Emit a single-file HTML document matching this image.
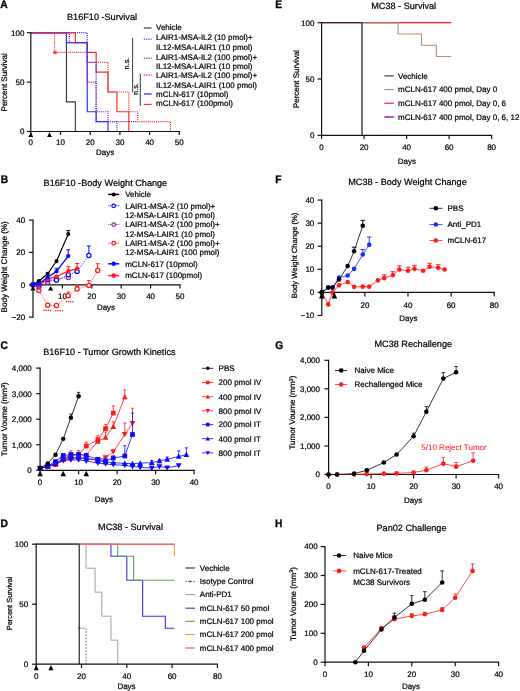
<!DOCTYPE html>
<html><head><meta charset="utf-8"><style>
html,body{margin:0;padding:0;background:#fff;width:520px;height:691px;overflow:hidden}
svg{display:block;font-family:"Liberation Sans",sans-serif;will-change:transform;text-rendering:geometricPrecision}
text{stroke:currentColor;stroke-width:0.22px}
</style></head><body>
<svg width="520" height="691" viewBox="0 0 520 691" font-family='"Liberation Sans", sans-serif'>
<rect width="520" height="691" fill="#fff"/>
<text transform="translate(0.20 8.40) scale(0.93 1)" font-size="11" font-weight="bold" fill="#000" style="color:#000;stroke-width:0.3px">A</text>
<text x="102.00" y="20.29" font-size="9.15" text-anchor="middle" fill="#000" style="color:#000">B16F10 -Survival</text>
<polyline points="30.80,32.70 66.44,32.70 66.44,101.86 75.35,101.86 75.35,131.50" fill="none" stroke="#333" stroke-width="1.1" stroke-linecap="butt" stroke-linejoin="miter"/>
<polyline points="30.80,32.70 75.35,32.70 75.35,42.58 87.23,42.58 87.23,52.46 96.14,52.46 96.14,72.22 108.02,72.22 108.02,91.98 116.93,91.98 116.93,111.74 128.81,111.74 128.81,131.50" fill="none" stroke="#ff2a2a" stroke-width="1.2" stroke-linecap="butt" stroke-linejoin="miter"/>
<polyline points="30.80,32.70 66.44,32.70 66.44,42.58 87.23,42.58 87.23,111.74 96.14,111.74 96.14,121.62 108.02,121.62 108.02,131.50" fill="none" stroke="#3232ff" stroke-width="1.2" stroke-linecap="butt" stroke-linejoin="miter"/>
<polyline points="30.80,32.70 54.56,32.70 54.56,52.46 87.23,52.46 87.23,62.34 108.02,62.34 108.02,91.98 128.81,91.98 128.81,111.74 137.72,111.74 137.72,121.62 170.39,121.62 170.39,131.50" fill="none" stroke="#ff2a2a" stroke-width="1.2" stroke-dasharray="1.1,1" stroke-linecap="butt" stroke-linejoin="miter"/>
<polyline points="30.80,32.70 87.23,32.70 87.23,62.34 96.14,62.34 96.14,121.62 116.93,121.62 116.93,131.50" fill="none" stroke="#3232ff" stroke-width="1.2" stroke-dasharray="1.1,1" stroke-linecap="butt" stroke-linejoin="miter"/>
<line x1="30.80" y1="32.70" x2="75.35" y2="32.70" stroke="#ff2a2a" stroke-width="1.2" stroke-linecap="butt"/>
<polyline points="30.80,32.70 69.41,32.70 69.41,42.58 87.23,42.58 87.23,82.10 96.14,82.10 96.14,111.74 108.02,111.74 108.02,121.62 137.72,121.62 137.72,121.62" fill="none" stroke="#8424b0" stroke-width="1.2" stroke-dasharray="1.1,1" stroke-linecap="butt" stroke-linejoin="miter"/>
<line x1="53.36" y1="50.86" x2="56.56" y2="54.06" stroke="#ff2a2a" stroke-width="1.0" stroke-linecap="butt"/>
<line x1="53.36" y1="54.06" x2="56.56" y2="50.86" stroke="#ff2a2a" stroke-width="1.0" stroke-linecap="butt"/>
<line x1="53.16" y1="52.46" x2="56.76" y2="52.46" stroke="#ff2a2a" stroke-width="1.0" stroke-linecap="butt"/>
<line x1="54.96" y1="50.66" x2="54.96" y2="54.26" stroke="#ff2a2a" stroke-width="1.0" stroke-linecap="butt"/>
<line x1="30.80" y1="32.50" x2="30.80" y2="132.10" stroke="#111" stroke-width="1.2" stroke-linecap="butt"/>
<line x1="30.20" y1="131.50" x2="179.90" y2="131.50" stroke="#111" stroke-width="1.2" stroke-linecap="butt"/>
<line x1="26.80" y1="131.50" x2="30.80" y2="131.50" stroke="#111" stroke-width="1.2" stroke-linecap="butt"/>
<text x="24.40" y="134.38" font-size="8" text-anchor="end" fill="#000" style="color:#000">0</text>
<line x1="26.80" y1="82.10" x2="30.80" y2="82.10" stroke="#111" stroke-width="1.2" stroke-linecap="butt"/>
<text x="24.40" y="84.98" font-size="8" text-anchor="end" fill="#000" style="color:#000">50</text>
<line x1="26.80" y1="32.70" x2="30.80" y2="32.70" stroke="#111" stroke-width="1.2" stroke-linecap="butt"/>
<text x="24.40" y="35.58" font-size="8" text-anchor="end" fill="#000" style="color:#000">100</text>
<line x1="30.80" y1="131.50" x2="30.80" y2="135.00" stroke="#111" stroke-width="1.2" stroke-linecap="butt"/>
<text x="30.80" y="144.88" font-size="8" text-anchor="middle" fill="#000" style="color:#000">0</text>
<line x1="60.50" y1="131.50" x2="60.50" y2="135.00" stroke="#111" stroke-width="1.2" stroke-linecap="butt"/>
<text x="60.50" y="144.88" font-size="8" text-anchor="middle" fill="#000" style="color:#000">10</text>
<line x1="90.20" y1="131.50" x2="90.20" y2="135.00" stroke="#111" stroke-width="1.2" stroke-linecap="butt"/>
<text x="90.20" y="144.88" font-size="8" text-anchor="middle" fill="#000" style="color:#000">20</text>
<line x1="119.90" y1="131.50" x2="119.90" y2="135.00" stroke="#111" stroke-width="1.2" stroke-linecap="butt"/>
<text x="119.90" y="144.88" font-size="8" text-anchor="middle" fill="#000" style="color:#000">30</text>
<line x1="149.60" y1="131.50" x2="149.60" y2="135.00" stroke="#111" stroke-width="1.2" stroke-linecap="butt"/>
<text x="149.60" y="144.88" font-size="8" text-anchor="middle" fill="#000" style="color:#000">40</text>
<line x1="179.30" y1="131.50" x2="179.30" y2="135.00" stroke="#111" stroke-width="1.2" stroke-linecap="butt"/>
<text x="179.30" y="144.88" font-size="8" text-anchor="middle" fill="#000" style="color:#000">50</text>
<text x="105.05" y="154.68" font-size="8" text-anchor="middle" fill="#000" style="color:#000">Days</text>
<text x="7.50" y="82.30" font-size="8" text-anchor="middle" fill="#000" style="color:#000" transform="rotate(-90 7.5 82.3)">Percent Survival</text>
<polygon points="30.80,132.30 28.40,137.10 33.20,137.10" fill="#000"/>
<polygon points="49.51,132.30 47.11,137.10 51.91,137.10" fill="#000"/>
<line x1="143.80" y1="28.00" x2="151.60" y2="28.00" stroke="#555" stroke-width="1.4" stroke-linecap="butt"/>
<text x="156.00" y="30.48" font-size="8" text-anchor="start" fill="#000" style="color:#000">Vehicle</text>
<line x1="143.80" y1="39.20" x2="151.60" y2="39.20" stroke="#3232ff" stroke-width="1.3" stroke-dasharray="1.2,1.1" stroke-linecap="butt"/>
<text x="156.00" y="40.48" font-size="8" text-anchor="start" fill="#000" style="color:#000">LAIR1-MSA-IL2 (10 pmol)+</text>
<text x="156.00" y="50.48" font-size="8" text-anchor="start" fill="#000" style="color:#000">IL12-MSA-LAIR1 (10 pmol)</text>
<line x1="143.80" y1="58.20" x2="151.60" y2="58.20" stroke="#8424b0" stroke-width="1.3" stroke-dasharray="1.2,1.1" stroke-linecap="butt"/>
<text x="156.00" y="59.88" font-size="8" text-anchor="start" fill="#000" style="color:#000">LAIR1-MSA-IL2 (100 pmol)+</text>
<text x="156.00" y="69.48" font-size="8" text-anchor="start" fill="#000" style="color:#000">IL12-MSA-LAIR1 (10 pmol)</text>
<line x1="143.80" y1="75.00" x2="151.60" y2="75.00" stroke="#ff2a2a" stroke-width="1.3" stroke-dasharray="1.2,1.1" stroke-linecap="butt"/>
<text x="156.00" y="78.28" font-size="8" text-anchor="start" fill="#000" style="color:#000">LAIR1-MSA-IL2 (100 pmol)+</text>
<text x="156.00" y="87.88" font-size="8" text-anchor="start" fill="#000" style="color:#000">IL12-MSA-LAIR1 (100 pmol)</text>
<line x1="143.80" y1="94.00" x2="151.60" y2="94.00" stroke="#3232ff" stroke-width="1.3" stroke-linecap="butt"/>
<text x="156.00" y="97.08" font-size="8" text-anchor="start" fill="#000" style="color:#000">mCLN-617 (10pmol)</text>
<line x1="143.80" y1="104.40" x2="151.60" y2="104.40" stroke="#ff2a2a" stroke-width="1.2" stroke-linecap="butt"/>
<text x="156.00" y="106.48" font-size="8" text-anchor="start" fill="#000" style="color:#000">mCLN-617 (100pmol)</text>
<line x1="132.60" y1="37.90" x2="132.60" y2="92.40" stroke="#222" stroke-width="0.9" stroke-linecap="butt"/>
<line x1="140.30" y1="73.50" x2="140.30" y2="105.80" stroke="#222" stroke-width="0.9" stroke-linecap="butt"/>
<text x="129.20" y="63.50" font-size="7.3" text-anchor="middle" fill="#000" style="color:#000" transform="rotate(-90 129.2 63.5)">n.s.</text>
<text x="137.90" y="89.00" font-size="7.3" text-anchor="middle" fill="#000" style="color:#000" transform="rotate(-90 137.9 89.0)">n.s.</text>
<text transform="translate(0.80 182.60) scale(0.93 1)" font-size="11" font-weight="bold" fill="#000" style="color:#000;stroke-width:0.3px">B</text>
<text x="43.60" y="185.79" font-size="9.15" text-anchor="start" fill="#000" style="color:#000">B16F10 -Body Weight Change</text>
<line x1="33.00" y1="219.52" x2="33.00" y2="317.74" stroke="#111" stroke-width="1.2" stroke-linecap="butt"/>
<line x1="33.00" y1="284.80" x2="180.60" y2="284.80" stroke="#111" stroke-width="1.2" stroke-linecap="butt"/>
<line x1="29.00" y1="220.12" x2="33.00" y2="220.12" stroke="#111" stroke-width="1.2" stroke-linecap="butt"/>
<text x="25.20" y="223.00" font-size="8" text-anchor="end" fill="#000" style="color:#000">40</text>
<line x1="29.00" y1="252.46" x2="33.00" y2="252.46" stroke="#111" stroke-width="1.2" stroke-linecap="butt"/>
<text x="25.20" y="255.34" font-size="8" text-anchor="end" fill="#000" style="color:#000">20</text>
<line x1="29.00" y1="284.80" x2="33.00" y2="284.80" stroke="#111" stroke-width="1.2" stroke-linecap="butt"/>
<text x="25.20" y="287.68" font-size="8" text-anchor="end" fill="#000" style="color:#000">0</text>
<line x1="29.00" y1="317.14" x2="33.00" y2="317.14" stroke="#111" stroke-width="1.2" stroke-linecap="butt"/>
<text x="25.20" y="320.02" font-size="8" text-anchor="end" fill="#000" style="color:#000">−20</text>
<line x1="62.40" y1="284.80" x2="62.40" y2="288.50" stroke="#111" stroke-width="1.2" stroke-linecap="butt"/>
<text x="62.40" y="299.08" font-size="8" text-anchor="middle" fill="#000" style="color:#000">10</text>
<line x1="91.80" y1="284.80" x2="91.80" y2="288.50" stroke="#111" stroke-width="1.2" stroke-linecap="butt"/>
<text x="91.80" y="299.08" font-size="8" text-anchor="middle" fill="#000" style="color:#000">20</text>
<line x1="121.20" y1="284.80" x2="121.20" y2="288.50" stroke="#111" stroke-width="1.2" stroke-linecap="butt"/>
<text x="121.20" y="299.08" font-size="8" text-anchor="middle" fill="#000" style="color:#000">30</text>
<line x1="150.60" y1="284.80" x2="150.60" y2="288.50" stroke="#111" stroke-width="1.2" stroke-linecap="butt"/>
<text x="150.60" y="299.08" font-size="8" text-anchor="middle" fill="#000" style="color:#000">40</text>
<line x1="180.00" y1="284.80" x2="180.00" y2="288.50" stroke="#111" stroke-width="1.2" stroke-linecap="butt"/>
<text x="180.00" y="299.08" font-size="8" text-anchor="middle" fill="#000" style="color:#000">50</text>
<text x="106.00" y="309.78" font-size="8" text-anchor="middle" fill="#000" style="color:#000">Days</text>
<text x="7.30" y="266.80" font-size="8.1" text-anchor="middle" fill="#000" style="color:#000" transform="rotate(-90 7.3 266.8)">Body Weight Change (%)</text>
<line x1="68.28" y1="295.63" x2="68.28" y2="292.08" stroke="#ff1a1a" stroke-width="1.0" stroke-linecap="butt"/>
<line x1="66.28" y1="292.08" x2="70.28" y2="292.08" stroke="#ff1a1a" stroke-width="1.0" stroke-linecap="butt"/>
<line x1="77.10" y1="289.00" x2="77.10" y2="286.42" stroke="#ff1a1a" stroke-width="1.0" stroke-linecap="butt"/>
<line x1="75.10" y1="286.42" x2="79.10" y2="286.42" stroke="#ff1a1a" stroke-width="1.0" stroke-linecap="butt"/>
<line x1="88.86" y1="285.45" x2="88.86" y2="280.60" stroke="#ff1a1a" stroke-width="1.0" stroke-linecap="butt"/>
<line x1="86.86" y1="280.60" x2="90.86" y2="280.60" stroke="#ff1a1a" stroke-width="1.0" stroke-linecap="butt"/>
<line x1="97.68" y1="270.57" x2="97.68" y2="263.78" stroke="#ff1a1a" stroke-width="1.0" stroke-linecap="butt"/>
<line x1="95.68" y1="263.78" x2="99.68" y2="263.78" stroke="#ff1a1a" stroke-width="1.0" stroke-linecap="butt"/>
<polyline points="33.00,284.80 38.88,290.62 47.70,305.17 56.52,305.50 68.28,295.63 77.10,289.00 88.86,285.45 97.68,270.57" fill="none" stroke="#ff1a1a" stroke-width="0.9" stroke-dasharray="1,1.2" stroke-linecap="butt" stroke-linejoin="round"/>
<circle cx="33.00" cy="284.80" r="2.1" fill="#fff" stroke="#ff1a1a" stroke-width="1.25"/>
<circle cx="38.88" cy="290.62" r="2.1" fill="#fff" stroke="#ff1a1a" stroke-width="1.25"/>
<circle cx="47.70" cy="305.17" r="2.1" fill="#fff" stroke="#ff1a1a" stroke-width="1.25"/>
<circle cx="56.52" cy="305.50" r="2.1" fill="#fff" stroke="#ff1a1a" stroke-width="1.25"/>
<circle cx="68.28" cy="295.63" r="2.1" fill="#fff" stroke="#ff1a1a" stroke-width="1.25"/>
<circle cx="77.10" cy="289.00" r="2.1" fill="#fff" stroke="#ff1a1a" stroke-width="1.25"/>
<circle cx="88.86" cy="285.45" r="2.1" fill="#fff" stroke="#ff1a1a" stroke-width="1.25"/>
<circle cx="97.68" cy="270.57" r="2.1" fill="#fff" stroke="#ff1a1a" stroke-width="1.25"/>
<polyline points="33.00,284.80 38.88,286.74 47.70,282.37 56.52,278.98 68.28,277.52" fill="none" stroke="#8a2a9a" stroke-width="0.9" stroke-dasharray="1,1.2" stroke-linecap="butt" stroke-linejoin="round"/>
<circle cx="33.00" cy="284.80" r="2.1" fill="#fff" stroke="#8a2a9a" stroke-width="1.25"/>
<circle cx="38.88" cy="286.74" r="2.1" fill="#fff" stroke="#8a2a9a" stroke-width="1.25"/>
<circle cx="47.70" cy="282.37" r="2.1" fill="#fff" stroke="#8a2a9a" stroke-width="1.25"/>
<circle cx="56.52" cy="278.98" r="2.1" fill="#fff" stroke="#8a2a9a" stroke-width="1.25"/>
<circle cx="68.28" cy="277.52" r="2.1" fill="#fff" stroke="#8a2a9a" stroke-width="1.25"/>
<line x1="77.10" y1="271.38" x2="77.10" y2="268.63" stroke="#0a0aff" stroke-width="1.0" stroke-linecap="butt"/>
<line x1="75.10" y1="268.63" x2="79.10" y2="268.63" stroke="#0a0aff" stroke-width="1.0" stroke-linecap="butt"/>
<line x1="88.86" y1="255.53" x2="88.86" y2="245.99" stroke="#0a0aff" stroke-width="1.0" stroke-linecap="butt"/>
<line x1="86.86" y1="245.99" x2="90.86" y2="245.99" stroke="#0a0aff" stroke-width="1.0" stroke-linecap="butt"/>
<polyline points="33.00,284.80 38.88,285.12 47.70,279.79 56.52,280.27 68.28,274.77 77.10,271.38 88.86,255.53" fill="none" stroke="#0a0aff" stroke-width="0.9" stroke-dasharray="1,1.2" stroke-linecap="butt" stroke-linejoin="round"/>
<circle cx="33.00" cy="284.80" r="2.1" fill="#fff" stroke="#0a0aff" stroke-width="1.25"/>
<circle cx="38.88" cy="285.12" r="2.1" fill="#fff" stroke="#0a0aff" stroke-width="1.25"/>
<circle cx="47.70" cy="279.79" r="2.1" fill="#fff" stroke="#0a0aff" stroke-width="1.25"/>
<circle cx="56.52" cy="280.27" r="2.1" fill="#fff" stroke="#0a0aff" stroke-width="1.25"/>
<circle cx="68.28" cy="274.77" r="2.1" fill="#fff" stroke="#0a0aff" stroke-width="1.25"/>
<circle cx="77.10" cy="271.38" r="2.1" fill="#fff" stroke="#0a0aff" stroke-width="1.25"/>
<circle cx="88.86" cy="255.53" r="2.1" fill="#fff" stroke="#0a0aff" stroke-width="1.25"/>
<line x1="68.28" y1="234.03" x2="68.28" y2="230.63" stroke="#000" stroke-width="1.0" stroke-linecap="butt"/>
<line x1="66.28" y1="230.63" x2="70.28" y2="230.63" stroke="#000" stroke-width="1.0" stroke-linecap="butt"/>
<polyline points="33.00,284.80 38.88,281.08 47.70,273.80 56.52,261.03 68.28,234.03" fill="none" stroke="#000" stroke-width="1.2" stroke-linecap="butt" stroke-linejoin="round"/>
<circle cx="33.00" cy="284.80" r="2.1" fill="#000" stroke="none" stroke-width="1"/>
<circle cx="38.88" cy="281.08" r="2.1" fill="#000" stroke="none" stroke-width="1"/>
<circle cx="47.70" cy="273.80" r="2.1" fill="#000" stroke="none" stroke-width="1"/>
<circle cx="56.52" cy="261.03" r="2.1" fill="#000" stroke="none" stroke-width="1"/>
<circle cx="68.28" cy="234.03" r="2.1" fill="#000" stroke="none" stroke-width="1"/>
<line x1="68.28" y1="271.06" x2="68.28" y2="266.69" stroke="#ff1a1a" stroke-width="1.0" stroke-linecap="butt"/>
<line x1="66.28" y1="266.69" x2="70.28" y2="266.69" stroke="#ff1a1a" stroke-width="1.0" stroke-linecap="butt"/>
<line x1="77.10" y1="268.63" x2="77.10" y2="263.46" stroke="#ff1a1a" stroke-width="1.0" stroke-linecap="butt"/>
<line x1="75.10" y1="263.46" x2="79.10" y2="263.46" stroke="#ff1a1a" stroke-width="1.0" stroke-linecap="butt"/>
<polyline points="33.00,284.80 38.88,285.12 47.70,278.98 56.52,276.72 68.28,271.06 77.10,268.63" fill="none" stroke="#ff1a1a" stroke-width="1.3" stroke-linecap="butt" stroke-linejoin="round"/>
<circle cx="33.00" cy="284.80" r="2.1" fill="#ff1a1a" stroke="none" stroke-width="1"/>
<circle cx="38.88" cy="285.12" r="2.1" fill="#ff1a1a" stroke="none" stroke-width="1"/>
<circle cx="47.70" cy="278.98" r="2.1" fill="#ff1a1a" stroke="none" stroke-width="1"/>
<circle cx="56.52" cy="276.72" r="2.1" fill="#ff1a1a" stroke="none" stroke-width="1"/>
<circle cx="68.28" cy="271.06" r="2.1" fill="#ff1a1a" stroke="none" stroke-width="1"/>
<circle cx="77.10" cy="268.63" r="2.1" fill="#ff1a1a" stroke="none" stroke-width="1"/>
<line x1="56.52" y1="271.38" x2="56.52" y2="268.31" stroke="#0a0aff" stroke-width="1.0" stroke-linecap="butt"/>
<line x1="54.52" y1="268.31" x2="58.52" y2="268.31" stroke="#0a0aff" stroke-width="1.0" stroke-linecap="butt"/>
<line x1="68.28" y1="256.02" x2="68.28" y2="249.87" stroke="#0a0aff" stroke-width="1.0" stroke-linecap="butt"/>
<line x1="66.28" y1="249.87" x2="70.28" y2="249.87" stroke="#0a0aff" stroke-width="1.0" stroke-linecap="butt"/>
<polyline points="33.00,284.80 38.88,283.67 47.70,277.20 56.52,271.38 68.28,256.02" fill="none" stroke="#0a0aff" stroke-width="1.3" stroke-linecap="butt" stroke-linejoin="round"/>
<circle cx="33.00" cy="284.80" r="2.1" fill="#0a0aff" stroke="none" stroke-width="1"/>
<circle cx="38.88" cy="283.67" r="2.1" fill="#0a0aff" stroke="none" stroke-width="1"/>
<circle cx="47.70" cy="277.20" r="2.1" fill="#0a0aff" stroke="none" stroke-width="1"/>
<circle cx="56.52" cy="271.38" r="2.1" fill="#0a0aff" stroke="none" stroke-width="1"/>
<circle cx="68.28" cy="256.02" r="2.1" fill="#0a0aff" stroke="none" stroke-width="1"/>
<circle cx="44.00" cy="310.20" r="0.75" fill="#ff1a1a" stroke="none" stroke-width="1"/>
<circle cx="46.20" cy="310.20" r="0.75" fill="#ff1a1a" stroke="none" stroke-width="1"/>
<circle cx="48.40" cy="310.20" r="0.75" fill="#ff1a1a" stroke="none" stroke-width="1"/>
<circle cx="50.60" cy="310.20" r="0.75" fill="#ff1a1a" stroke="none" stroke-width="1"/>
<circle cx="55.70" cy="310.80" r="0.75" fill="#ff1a1a" stroke="none" stroke-width="1"/>
<circle cx="57.90" cy="310.80" r="0.75" fill="#ff1a1a" stroke="none" stroke-width="1"/>
<circle cx="60.10" cy="310.80" r="0.75" fill="#ff1a1a" stroke="none" stroke-width="1"/>
<circle cx="62.30" cy="310.80" r="0.75" fill="#ff1a1a" stroke="none" stroke-width="1"/>
<circle cx="66.30" cy="301.80" r="0.75" fill="#ff1a1a" stroke="none" stroke-width="1"/>
<circle cx="68.50" cy="301.80" r="0.75" fill="#ff1a1a" stroke="none" stroke-width="1"/>
<circle cx="70.70" cy="301.80" r="0.75" fill="#ff1a1a" stroke="none" stroke-width="1"/>
<circle cx="72.90" cy="301.80" r="0.75" fill="#ff1a1a" stroke="none" stroke-width="1"/>
<polygon points="33.00,286.00 30.40,290.60 35.60,290.60" fill="#000"/>
<polygon points="50.64,286.00 48.04,290.60 53.24,290.60" fill="#000"/>
<line x1="108.20" y1="194.40" x2="119.20" y2="194.40" stroke="#000" stroke-width="1.5" stroke-linecap="butt"/>
<circle cx="113.70" cy="194.40" r="2.0" fill="#000" stroke="none" stroke-width="1"/>
<text x="125.20" y="197.28" font-size="8" text-anchor="start" fill="#000" style="color:#000">Vehicle</text>
<line x1="108.20" y1="205.80" x2="119.20" y2="205.80" stroke="#0a0aff" stroke-width="1.0" stroke-dasharray="1,1" stroke-linecap="butt"/>
<circle cx="113.70" cy="205.80" r="1.8" fill="#fff" stroke="#0a0aff" stroke-width="1.25"/>
<text x="125.20" y="208.68" font-size="8" text-anchor="start" fill="#000" style="color:#000">LAIR1-MSA-2 (10 pmol)+</text>
<text x="125.20" y="218.08" font-size="8" text-anchor="start" fill="#000" style="color:#000">12-MSA-LAIR1 (10 pmol)</text>
<line x1="108.20" y1="224.60" x2="119.20" y2="224.60" stroke="#8a2a9a" stroke-width="1.0" stroke-dasharray="1,1" stroke-linecap="butt"/>
<circle cx="113.70" cy="224.60" r="1.8" fill="#fff" stroke="#8a2a9a" stroke-width="1.25"/>
<text x="125.20" y="227.48" font-size="8" text-anchor="start" fill="#000" style="color:#000">LAIR1-MSA-2 (100 pmol)+</text>
<text x="125.20" y="236.88" font-size="8" text-anchor="start" fill="#000" style="color:#000">12-MSA-LAIR1 (10 pmol)</text>
<line x1="108.20" y1="243.20" x2="119.20" y2="243.20" stroke="#ff1a1a" stroke-width="1.0" stroke-dasharray="1,1" stroke-linecap="butt"/>
<circle cx="113.70" cy="243.20" r="1.8" fill="#fff" stroke="#ff1a1a" stroke-width="1.25"/>
<text x="125.20" y="246.08" font-size="8" text-anchor="start" fill="#000" style="color:#000">LAIR1-MSA-2 (100 pmol)+</text>
<text x="125.20" y="255.48" font-size="8" text-anchor="start" fill="#000" style="color:#000">12-MSA-LAIR1 (100 pmol)</text>
<line x1="108.20" y1="263.80" x2="119.20" y2="263.80" stroke="#0a0aff" stroke-width="1.5" stroke-linecap="butt"/>
<circle cx="113.70" cy="263.80" r="2.3" fill="#0a0aff" stroke="none" stroke-width="1"/>
<text x="125.20" y="266.68" font-size="8" text-anchor="start" fill="#000" style="color:#000">mCLN-617 (10pmol)</text>
<line x1="108.20" y1="275.60" x2="119.20" y2="275.60" stroke="#ff1a1a" stroke-width="1.5" stroke-linecap="butt"/>
<circle cx="113.70" cy="275.60" r="2.3" fill="#ff1a1a" stroke="none" stroke-width="1"/>
<text x="125.20" y="278.48" font-size="8" text-anchor="start" fill="#000" style="color:#000">mCLN-617 (100pmol)</text>
<text transform="translate(0.50 348.70) scale(0.93 1)" font-size="11" font-weight="bold" fill="#000" style="color:#000;stroke-width:0.3px">C</text>
<text x="43.20" y="354.89" font-size="9.15" text-anchor="start" fill="#000" style="color:#000">B16F10 - Tumor Growth Kinetics</text>
<line x1="40.10" y1="367.50" x2="40.10" y2="470.90" stroke="#111" stroke-width="1.2" stroke-linecap="butt"/>
<line x1="40.10" y1="470.30" x2="194.70" y2="470.30" stroke="#111" stroke-width="1.2" stroke-linecap="butt"/>
<line x1="36.10" y1="470.30" x2="40.10" y2="470.30" stroke="#111" stroke-width="1.2" stroke-linecap="butt"/>
<text x="31.80" y="473.18" font-size="8" text-anchor="end" fill="#000" style="color:#000">0</text>
<line x1="36.10" y1="444.75" x2="40.10" y2="444.75" stroke="#111" stroke-width="1.2" stroke-linecap="butt"/>
<text x="31.80" y="447.63" font-size="8" text-anchor="end" fill="#000" style="color:#000">1,000</text>
<line x1="36.10" y1="419.20" x2="40.10" y2="419.20" stroke="#111" stroke-width="1.2" stroke-linecap="butt"/>
<text x="31.80" y="422.08" font-size="8" text-anchor="end" fill="#000" style="color:#000">2,000</text>
<line x1="36.10" y1="393.65" x2="40.10" y2="393.65" stroke="#111" stroke-width="1.2" stroke-linecap="butt"/>
<text x="31.80" y="396.53" font-size="8" text-anchor="end" fill="#000" style="color:#000">3,000</text>
<line x1="36.10" y1="368.10" x2="40.10" y2="368.10" stroke="#111" stroke-width="1.2" stroke-linecap="butt"/>
<text x="31.80" y="370.98" font-size="8" text-anchor="end" fill="#000" style="color:#000">4,000</text>
<line x1="40.10" y1="470.30" x2="40.10" y2="474.30" stroke="#111" stroke-width="1.2" stroke-linecap="butt"/>
<text x="40.10" y="485.48" font-size="8" text-anchor="middle" fill="#000" style="color:#000">0</text>
<line x1="78.60" y1="470.30" x2="78.60" y2="474.30" stroke="#111" stroke-width="1.2" stroke-linecap="butt"/>
<text x="78.60" y="485.48" font-size="8" text-anchor="middle" fill="#000" style="color:#000">10</text>
<line x1="117.10" y1="470.30" x2="117.10" y2="474.30" stroke="#111" stroke-width="1.2" stroke-linecap="butt"/>
<text x="117.10" y="485.48" font-size="8" text-anchor="middle" fill="#000" style="color:#000">20</text>
<line x1="155.60" y1="470.30" x2="155.60" y2="474.30" stroke="#111" stroke-width="1.2" stroke-linecap="butt"/>
<text x="155.60" y="485.48" font-size="8" text-anchor="middle" fill="#000" style="color:#000">30</text>
<line x1="194.10" y1="470.30" x2="194.10" y2="474.30" stroke="#111" stroke-width="1.2" stroke-linecap="butt"/>
<text x="194.10" y="485.48" font-size="8" text-anchor="middle" fill="#000" style="color:#000">40</text>
<text x="103.80" y="502.18" font-size="8" text-anchor="middle" fill="#000" style="color:#000">Days</text>
<text transform="translate(7.2 419.3) rotate(-90)" font-size="8" text-anchor="middle">Tumor Voume (mm<tspan dy="-2.6" font-size="5.5">3</tspan><tspan dy="2.6">)</tspan></text>
<line x1="113.25" y1="451.90" x2="113.25" y2="449.86" stroke="#ff1a1a" stroke-width="0.8" stroke-linecap="butt"/>
<line x1="111.65" y1="449.86" x2="114.85" y2="449.86" stroke="#ff1a1a" stroke-width="0.8" stroke-linecap="butt"/>
<line x1="124.80" y1="434.27" x2="124.80" y2="423.03" stroke="#ff1a1a" stroke-width="0.8" stroke-linecap="butt"/>
<line x1="123.20" y1="423.03" x2="126.40" y2="423.03" stroke="#ff1a1a" stroke-width="0.8" stroke-linecap="butt"/>
<line x1="132.50" y1="423.29" x2="132.50" y2="408.21" stroke="#ff1a1a" stroke-width="0.8" stroke-linecap="butt"/>
<line x1="130.90" y1="408.21" x2="134.10" y2="408.21" stroke="#ff1a1a" stroke-width="0.8" stroke-linecap="butt"/>
<polyline points="40.10,468.26 47.80,466.72 55.50,464.68 63.20,460.59 70.90,458.80 78.60,458.04 86.30,458.80 97.85,459.57 105.55,457.53 113.25,451.90 124.80,434.27 132.50,423.29" fill="none" stroke="#ff1a1a" stroke-width="0.8" stroke-linecap="butt" stroke-linejoin="round"/>
<polygon points="40.10,471.17 37.19,465.93 43.01,465.93" fill="#ff1a1a"/>
<polygon points="47.80,469.63 44.89,464.39 50.71,464.39" fill="#ff1a1a"/>
<polygon points="55.50,467.59 52.59,462.35 58.41,462.35" fill="#ff1a1a"/>
<polygon points="63.20,463.50 60.29,458.26 66.11,458.26" fill="#ff1a1a"/>
<polygon points="70.90,461.71 67.99,456.47 73.81,456.47" fill="#ff1a1a"/>
<polygon points="78.60,460.95 75.69,455.71 81.51,455.71" fill="#ff1a1a"/>
<polygon points="86.30,461.71 83.39,456.47 89.21,456.47" fill="#ff1a1a"/>
<polygon points="97.85,462.48 94.94,457.24 100.76,457.24" fill="#ff1a1a"/>
<polygon points="105.55,460.44 102.64,455.20 108.46,455.20" fill="#ff1a1a"/>
<polygon points="113.25,454.82 110.34,449.57 116.16,449.57" fill="#ff1a1a"/>
<polygon points="124.80,437.19 121.89,431.94 127.71,431.94" fill="#ff1a1a"/>
<polygon points="132.50,426.20 129.59,420.96 135.41,420.96" fill="#ff1a1a"/>
<line x1="105.55" y1="437.34" x2="105.55" y2="431.98" stroke="#ff1a1a" stroke-width="0.8" stroke-linecap="butt"/>
<line x1="103.95" y1="431.98" x2="107.15" y2="431.98" stroke="#ff1a1a" stroke-width="0.8" stroke-linecap="butt"/>
<line x1="113.25" y1="426.61" x2="113.25" y2="421.75" stroke="#ff1a1a" stroke-width="0.8" stroke-linecap="butt"/>
<line x1="111.65" y1="421.75" x2="114.85" y2="421.75" stroke="#ff1a1a" stroke-width="0.8" stroke-linecap="butt"/>
<line x1="124.80" y1="396.97" x2="124.80" y2="389.82" stroke="#ff1a1a" stroke-width="0.8" stroke-linecap="butt"/>
<line x1="123.20" y1="389.82" x2="126.40" y2="389.82" stroke="#ff1a1a" stroke-width="0.8" stroke-linecap="butt"/>
<polyline points="40.10,468.26 47.80,466.47 55.50,464.42 63.20,459.57 70.90,455.99 78.60,454.46 86.30,454.97 97.85,441.43 105.55,437.34 113.25,426.61 124.80,396.97" fill="none" stroke="#ff1a1a" stroke-width="0.8" stroke-linecap="butt" stroke-linejoin="round"/>
<polygon points="40.10,465.34 37.19,470.59 43.01,470.59" fill="#ff1a1a"/>
<polygon points="47.80,463.56 44.89,468.80 50.71,468.80" fill="#ff1a1a"/>
<polygon points="55.50,461.51 52.59,466.75 58.41,466.75" fill="#ff1a1a"/>
<polygon points="63.20,456.66 60.29,461.90 66.11,461.90" fill="#ff1a1a"/>
<polygon points="70.90,453.08 67.99,458.32 73.81,458.32" fill="#ff1a1a"/>
<polygon points="78.60,451.55 75.69,456.79 81.51,456.79" fill="#ff1a1a"/>
<polygon points="86.30,452.06 83.39,457.30 89.21,457.30" fill="#ff1a1a"/>
<polygon points="97.85,438.52 94.94,443.76 100.76,443.76" fill="#ff1a1a"/>
<polygon points="105.55,434.43 102.64,439.67 108.46,439.67" fill="#ff1a1a"/>
<polygon points="113.25,423.70 110.34,428.94 116.16,428.94" fill="#ff1a1a"/>
<polygon points="124.80,394.06 121.89,399.30 127.71,399.30" fill="#ff1a1a"/>
<line x1="70.90" y1="454.71" x2="70.90" y2="450.88" stroke="#ff1a1a" stroke-width="0.8" stroke-linecap="butt"/>
<line x1="69.30" y1="450.88" x2="72.50" y2="450.88" stroke="#ff1a1a" stroke-width="0.8" stroke-linecap="butt"/>
<line x1="78.60" y1="454.46" x2="78.60" y2="450.63" stroke="#ff1a1a" stroke-width="0.8" stroke-linecap="butt"/>
<line x1="77.00" y1="450.63" x2="80.20" y2="450.63" stroke="#ff1a1a" stroke-width="0.8" stroke-linecap="butt"/>
<line x1="86.30" y1="446.03" x2="86.30" y2="442.19" stroke="#ff1a1a" stroke-width="0.8" stroke-linecap="butt"/>
<line x1="84.70" y1="442.19" x2="87.90" y2="442.19" stroke="#ff1a1a" stroke-width="0.8" stroke-linecap="butt"/>
<line x1="97.85" y1="439.64" x2="97.85" y2="435.81" stroke="#ff1a1a" stroke-width="0.8" stroke-linecap="butt"/>
<line x1="96.25" y1="435.81" x2="99.45" y2="435.81" stroke="#ff1a1a" stroke-width="0.8" stroke-linecap="butt"/>
<line x1="105.55" y1="428.65" x2="105.55" y2="424.31" stroke="#ff1a1a" stroke-width="0.8" stroke-linecap="butt"/>
<line x1="103.95" y1="424.31" x2="107.15" y2="424.31" stroke="#ff1a1a" stroke-width="0.8" stroke-linecap="butt"/>
<line x1="113.25" y1="413.07" x2="113.25" y2="405.91" stroke="#ff1a1a" stroke-width="0.8" stroke-linecap="butt"/>
<line x1="111.65" y1="405.91" x2="114.85" y2="405.91" stroke="#ff1a1a" stroke-width="0.8" stroke-linecap="butt"/>
<polyline points="40.10,468.26 47.80,466.47 55.50,464.55 63.20,458.80 70.90,454.71 78.60,454.46 86.30,446.03 97.85,439.64 105.55,428.65 113.25,413.07" fill="none" stroke="#ff1a1a" stroke-width="0.8" stroke-linecap="butt" stroke-linejoin="round"/>
<rect x="37.75" y="465.90" width="4.70" height="4.70" fill="#ff1a1a"/>
<rect x="45.45" y="464.12" width="4.70" height="4.70" fill="#ff1a1a"/>
<rect x="53.15" y="462.20" width="4.70" height="4.70" fill="#ff1a1a"/>
<rect x="60.85" y="456.45" width="4.70" height="4.70" fill="#ff1a1a"/>
<rect x="68.55" y="452.36" width="4.70" height="4.70" fill="#ff1a1a"/>
<rect x="76.25" y="452.11" width="4.70" height="4.70" fill="#ff1a1a"/>
<rect x="83.95" y="443.68" width="4.70" height="4.70" fill="#ff1a1a"/>
<rect x="95.50" y="437.29" width="4.70" height="4.70" fill="#ff1a1a"/>
<rect x="103.20" y="426.30" width="4.70" height="4.70" fill="#ff1a1a"/>
<rect x="110.90" y="410.72" width="4.70" height="4.70" fill="#ff1a1a"/>
<polyline points="40.10,468.26 47.80,466.47 55.50,464.17 63.20,460.34 70.90,459.95 78.60,459.95 86.30,460.97 97.85,463.15 105.55,463.91 113.25,464.68 124.80,465.45 132.50,466.47 140.20,467.23 151.75,468.13 159.45,466.47 167.15,467.75 178.70,465.70" fill="none" stroke="#0a0aff" stroke-width="0.8" stroke-linecap="butt" stroke-linejoin="round"/>
<polygon points="40.10,471.17 37.19,465.93 43.01,465.93" fill="#0a0aff"/>
<polygon points="47.80,469.38 44.89,464.14 50.71,464.14" fill="#0a0aff"/>
<polygon points="55.50,467.08 52.59,461.84 58.41,461.84" fill="#0a0aff"/>
<polygon points="63.20,463.25 60.29,458.01 66.11,458.01" fill="#0a0aff"/>
<polygon points="70.90,462.86 67.99,457.62 73.81,457.62" fill="#0a0aff"/>
<polygon points="78.60,462.86 75.69,457.62 81.51,457.62" fill="#0a0aff"/>
<polygon points="86.30,463.89 83.39,458.64 89.21,458.64" fill="#0a0aff"/>
<polygon points="97.85,466.06 94.94,460.82 100.76,460.82" fill="#0a0aff"/>
<polygon points="105.55,466.82 102.64,461.58 108.46,461.58" fill="#0a0aff"/>
<polygon points="113.25,467.59 110.34,462.35 116.16,462.35" fill="#0a0aff"/>
<polygon points="124.80,468.36 121.89,463.12 127.71,463.12" fill="#0a0aff"/>
<polygon points="132.50,469.38 129.59,464.14 135.41,464.14" fill="#0a0aff"/>
<polygon points="140.20,470.15 137.29,464.90 143.11,464.90" fill="#0a0aff"/>
<polygon points="151.75,471.04 148.84,465.80 154.66,465.80" fill="#0a0aff"/>
<polygon points="159.45,469.38 156.54,464.14 162.36,464.14" fill="#0a0aff"/>
<polygon points="167.15,470.66 164.24,465.42 170.06,465.42" fill="#0a0aff"/>
<polygon points="178.70,468.61 175.79,463.37 181.61,463.37" fill="#0a0aff"/>
<line x1="151.75" y1="462.63" x2="151.75" y2="460.59" stroke="#0a0aff" stroke-width="0.8" stroke-linecap="butt"/>
<line x1="150.15" y1="460.59" x2="153.35" y2="460.59" stroke="#0a0aff" stroke-width="0.8" stroke-linecap="butt"/>
<line x1="159.45" y1="460.85" x2="159.45" y2="459.31" stroke="#0a0aff" stroke-width="0.8" stroke-linecap="butt"/>
<line x1="157.85" y1="459.31" x2="161.05" y2="459.31" stroke="#0a0aff" stroke-width="0.8" stroke-linecap="butt"/>
<line x1="167.15" y1="459.31" x2="167.15" y2="457.01" stroke="#0a0aff" stroke-width="0.8" stroke-linecap="butt"/>
<line x1="165.55" y1="457.01" x2="168.75" y2="457.01" stroke="#0a0aff" stroke-width="0.8" stroke-linecap="butt"/>
<line x1="178.70" y1="456.50" x2="178.70" y2="450.88" stroke="#0a0aff" stroke-width="0.8" stroke-linecap="butt"/>
<line x1="177.10" y1="450.88" x2="180.30" y2="450.88" stroke="#0a0aff" stroke-width="0.8" stroke-linecap="butt"/>
<line x1="186.40" y1="454.71" x2="186.40" y2="447.82" stroke="#0a0aff" stroke-width="0.8" stroke-linecap="butt"/>
<line x1="184.80" y1="447.82" x2="188.00" y2="447.82" stroke="#0a0aff" stroke-width="0.8" stroke-linecap="butt"/>
<polyline points="40.10,468.26 47.80,466.21 55.50,463.15 63.20,458.55 70.90,457.53 78.60,457.53 86.30,458.29 97.85,460.59 105.55,461.87 113.25,462.63 124.80,463.40 132.50,463.66 140.20,463.15 151.75,462.63 159.45,460.85 167.15,459.31 178.70,456.50 186.40,454.71" fill="none" stroke="#0a0aff" stroke-width="0.8" stroke-linecap="butt" stroke-linejoin="round"/>
<polygon points="40.10,465.34 37.19,470.59 43.01,470.59" fill="#0a0aff"/>
<polygon points="47.80,463.30 44.89,468.54 50.71,468.54" fill="#0a0aff"/>
<polygon points="55.50,460.23 52.59,465.48 58.41,465.48" fill="#0a0aff"/>
<polygon points="63.20,455.64 60.29,460.88 66.11,460.88" fill="#0a0aff"/>
<polygon points="70.90,454.61 67.99,459.85 73.81,459.85" fill="#0a0aff"/>
<polygon points="78.60,454.61 75.69,459.85 81.51,459.85" fill="#0a0aff"/>
<polygon points="86.30,455.38 83.39,460.62 89.21,460.62" fill="#0a0aff"/>
<polygon points="97.85,457.68 94.94,462.92 100.76,462.92" fill="#0a0aff"/>
<polygon points="105.55,458.96 102.64,464.20 108.46,464.20" fill="#0a0aff"/>
<polygon points="113.25,459.72 110.34,464.96 116.16,464.96" fill="#0a0aff"/>
<polygon points="124.80,460.49 121.89,465.73 127.71,465.73" fill="#0a0aff"/>
<polygon points="132.50,460.75 129.59,465.99 135.41,465.99" fill="#0a0aff"/>
<polygon points="140.20,460.23 137.29,465.48 143.11,465.48" fill="#0a0aff"/>
<polygon points="151.75,459.72 148.84,464.96 154.66,464.96" fill="#0a0aff"/>
<polygon points="159.45,457.93 156.54,463.18 162.36,463.18" fill="#0a0aff"/>
<polygon points="167.15,456.40 164.24,461.64 170.06,461.64" fill="#0a0aff"/>
<polygon points="178.70,453.59 175.79,458.83 181.61,458.83" fill="#0a0aff"/>
<polygon points="186.40,451.80 183.49,457.04 189.31,457.04" fill="#0a0aff"/>
<line x1="113.25" y1="458.04" x2="113.25" y2="455.99" stroke="#0a0aff" stroke-width="0.8" stroke-linecap="butt"/>
<line x1="111.65" y1="455.99" x2="114.85" y2="455.99" stroke="#0a0aff" stroke-width="0.8" stroke-linecap="butt"/>
<line x1="124.80" y1="455.99" x2="124.80" y2="445.77" stroke="#0a0aff" stroke-width="0.8" stroke-linecap="butt"/>
<line x1="123.20" y1="445.77" x2="126.40" y2="445.77" stroke="#0a0aff" stroke-width="0.8" stroke-linecap="butt"/>
<line x1="132.50" y1="434.53" x2="132.50" y2="413.07" stroke="#0a0aff" stroke-width="0.8" stroke-linecap="butt"/>
<line x1="130.90" y1="413.07" x2="134.10" y2="413.07" stroke="#0a0aff" stroke-width="0.8" stroke-linecap="butt"/>
<polyline points="40.10,468.26 47.80,465.96 55.50,461.61 63.20,455.48 70.90,454.59 78.60,454.33 86.30,455.48 97.85,459.31 105.55,460.85 113.25,458.04 124.80,455.99 132.50,434.53" fill="none" stroke="#0a0aff" stroke-width="0.8" stroke-linecap="butt" stroke-linejoin="round"/>
<rect x="37.75" y="465.90" width="4.70" height="4.70" fill="#0a0aff"/>
<rect x="45.45" y="463.60" width="4.70" height="4.70" fill="#0a0aff"/>
<rect x="53.15" y="459.26" width="4.70" height="4.70" fill="#0a0aff"/>
<rect x="60.85" y="453.13" width="4.70" height="4.70" fill="#0a0aff"/>
<rect x="68.55" y="452.23" width="4.70" height="4.70" fill="#0a0aff"/>
<rect x="76.25" y="451.98" width="4.70" height="4.70" fill="#0a0aff"/>
<rect x="83.95" y="453.13" width="4.70" height="4.70" fill="#0a0aff"/>
<rect x="95.50" y="456.96" width="4.70" height="4.70" fill="#0a0aff"/>
<rect x="103.20" y="458.49" width="4.70" height="4.70" fill="#0a0aff"/>
<rect x="110.90" y="455.68" width="4.70" height="4.70" fill="#0a0aff"/>
<rect x="122.45" y="453.64" width="4.70" height="4.70" fill="#0a0aff"/>
<rect x="130.15" y="432.18" width="4.70" height="4.70" fill="#0a0aff"/>
<line x1="70.90" y1="417.69" x2="70.90" y2="414.09" stroke="#000" stroke-width="0.8" stroke-linecap="butt"/>
<line x1="69.30" y1="414.09" x2="72.50" y2="414.09" stroke="#000" stroke-width="0.8" stroke-linecap="butt"/>
<line x1="78.60" y1="396.15" x2="78.60" y2="392.37" stroke="#000" stroke-width="0.8" stroke-linecap="butt"/>
<line x1="77.00" y1="392.37" x2="80.20" y2="392.37" stroke="#000" stroke-width="0.8" stroke-linecap="butt"/>
<polyline points="40.10,468.26 47.80,463.40 55.50,454.71 63.20,438.87 70.90,417.69 78.60,396.15" fill="none" stroke="#000" stroke-width="0.8" stroke-linecap="butt" stroke-linejoin="round"/>
<circle cx="40.10" cy="468.26" r="2.24" fill="#000" stroke="none" stroke-width="1"/>
<circle cx="47.80" cy="463.40" r="2.24" fill="#000" stroke="none" stroke-width="1"/>
<circle cx="55.50" cy="454.71" r="2.24" fill="#000" stroke="none" stroke-width="1"/>
<circle cx="63.20" cy="438.87" r="2.24" fill="#000" stroke="none" stroke-width="1"/>
<circle cx="70.90" cy="417.69" r="2.24" fill="#000" stroke="none" stroke-width="1"/>
<circle cx="78.60" cy="396.15" r="2.24" fill="#000" stroke="none" stroke-width="1"/>
<polygon points="40.10,470.80 37.30,476.30 42.90,476.30" fill="#000"/>
<polygon points="63.20,470.80 60.40,476.30 66.00,476.30" fill="#000"/>
<polygon points="86.30,470.80 83.50,476.30 89.10,476.30" fill="#000"/>
<line x1="201.90" y1="368.30" x2="213.30" y2="368.30" stroke="#000" stroke-width="0.8" stroke-linecap="butt"/>
<circle cx="207.80" cy="368.30" r="1.7" fill="#000" stroke="none" stroke-width="1"/>
<text x="218.60" y="371.18" font-size="8" text-anchor="start" fill="#000" style="color:#000">PBS</text>
<line x1="201.90" y1="382.50" x2="213.30" y2="382.50" stroke="#ff1a1a" stroke-width="0.8" stroke-linecap="butt"/>
<rect x="206.02" y="380.71" width="3.57" height="3.57" fill="#ff1a1a"/>
<text x="218.60" y="385.38" font-size="8" text-anchor="start" fill="#000" style="color:#000">200 pmol IV</text>
<line x1="201.90" y1="396.70" x2="213.30" y2="396.70" stroke="#ff1a1a" stroke-width="0.8" stroke-linecap="butt"/>
<polygon points="207.80,394.49 205.59,398.47 210.01,398.47" fill="#ff1a1a"/>
<text x="218.60" y="399.58" font-size="8" text-anchor="start" fill="#000" style="color:#000">400 pmol IV</text>
<line x1="201.90" y1="410.80" x2="213.30" y2="410.80" stroke="#ff1a1a" stroke-width="0.8" stroke-linecap="butt"/>
<polygon points="207.80,413.01 205.59,409.03 210.01,409.03" fill="#ff1a1a"/>
<text x="218.60" y="413.68" font-size="8" text-anchor="start" fill="#000" style="color:#000">800 pmol IV</text>
<line x1="201.90" y1="424.60" x2="213.30" y2="424.60" stroke="#0a0aff" stroke-width="0.8" stroke-linecap="butt"/>
<rect x="206.02" y="422.81" width="3.57" height="3.57" fill="#0a0aff"/>
<text x="218.60" y="427.48" font-size="8" text-anchor="start" fill="#000" style="color:#000">200 pmol IT</text>
<line x1="201.90" y1="438.70" x2="213.30" y2="438.70" stroke="#0a0aff" stroke-width="0.8" stroke-linecap="butt"/>
<polygon points="207.80,436.49 205.59,440.47 210.01,440.47" fill="#0a0aff"/>
<text x="218.60" y="441.58" font-size="8" text-anchor="start" fill="#000" style="color:#000">400 pmol IT</text>
<line x1="201.90" y1="452.90" x2="213.30" y2="452.90" stroke="#0a0aff" stroke-width="0.8" stroke-linecap="butt"/>
<polygon points="207.80,455.11 205.59,451.13 210.01,451.13" fill="#0a0aff"/>
<text x="218.60" y="455.78" font-size="8" text-anchor="start" fill="#000" style="color:#000">800 pmol IT</text>
<text transform="translate(0.50 526.90) scale(0.93 1)" font-size="11" font-weight="bold" fill="#000" style="color:#000;stroke-width:0.3px">D</text>
<text x="130.50" y="529.59" font-size="9.15" text-anchor="middle" fill="#000" style="color:#000">MC38 - Survival</text>
<polyline points="36.20,544.20 86.03,544.20 86.03,568.20 95.09,568.20 95.09,592.20 101.89,592.20 101.89,616.20 110.95,616.20 110.95,640.20 117.74,640.20 117.74,664.20" fill="none" stroke="#a0a0a0" stroke-width="1.0" stroke-linecap="butt" stroke-linejoin="miter"/>
<polyline points="36.20,544.20 110.95,544.20 110.95,556.20 126.80,556.20 126.80,580.20 142.66,580.20 142.66,616.20 165.31,616.20 165.31,628.20 174.37,628.20 174.37,628.20" fill="none" stroke="#3a2ee0" stroke-width="1.1" stroke-linecap="butt" stroke-linejoin="miter"/>
<polyline points="36.20,544.20 117.74,544.20 117.74,556.20 133.60,556.20 133.60,580.20 174.37,580.20 174.37,580.20" fill="none" stroke="#55a84a" stroke-width="1.1" stroke-linecap="butt" stroke-linejoin="miter"/>
<polyline points="36.20,544.20 174.37,544.20 174.37,556.20" fill="none" stroke="#f0a035" stroke-width="1.1" stroke-linecap="butt" stroke-linejoin="miter"/>
<line x1="79.24" y1="544.20" x2="174.37" y2="544.20" stroke="#ea6a70" stroke-width="1.5" stroke-linecap="butt"/>
<polyline points="79.24,628.20 86.03,628.20 86.03,664.20" fill="none" stroke="#555" stroke-width="0.8" stroke-dasharray="2,1.2" stroke-linecap="butt" stroke-linejoin="miter"/>
<circle cx="79.24" cy="628.20" r="0.9" fill="#333" stroke="none" stroke-width="1"/>
<line x1="79.24" y1="544.20" x2="79.24" y2="664.20" stroke="#333" stroke-width="1.3" stroke-linecap="butt"/>
<line x1="36.20" y1="544.20" x2="79.24" y2="544.20" stroke="#333" stroke-width="1.3" stroke-linecap="butt"/>
<line x1="36.20" y1="543.60" x2="36.20" y2="664.80" stroke="#111" stroke-width="1.2" stroke-linecap="butt"/>
<line x1="36.20" y1="664.20" x2="218.00" y2="664.20" stroke="#111" stroke-width="1.2" stroke-linecap="butt"/>
<line x1="32.00" y1="664.20" x2="36.20" y2="664.20" stroke="#111" stroke-width="1.2" stroke-linecap="butt"/>
<text x="28.20" y="667.08" font-size="8" text-anchor="end" fill="#000" style="color:#000">0</text>
<line x1="32.00" y1="604.20" x2="36.20" y2="604.20" stroke="#111" stroke-width="1.2" stroke-linecap="butt"/>
<text x="28.20" y="607.08" font-size="8" text-anchor="end" fill="#000" style="color:#000">50</text>
<line x1="32.00" y1="544.20" x2="36.20" y2="544.20" stroke="#111" stroke-width="1.2" stroke-linecap="butt"/>
<text x="28.20" y="547.08" font-size="8" text-anchor="end" fill="#000" style="color:#000">100</text>
<line x1="36.20" y1="664.20" x2="36.20" y2="668.00" stroke="#111" stroke-width="1.2" stroke-linecap="butt"/>
<text x="36.20" y="679.18" font-size="8" text-anchor="middle" fill="#000" style="color:#000">0</text>
<line x1="81.50" y1="664.20" x2="81.50" y2="668.00" stroke="#111" stroke-width="1.2" stroke-linecap="butt"/>
<text x="81.50" y="679.18" font-size="8" text-anchor="middle" fill="#000" style="color:#000">20</text>
<line x1="126.80" y1="664.20" x2="126.80" y2="668.00" stroke="#111" stroke-width="1.2" stroke-linecap="butt"/>
<text x="126.80" y="679.18" font-size="8" text-anchor="middle" fill="#000" style="color:#000">40</text>
<line x1="172.10" y1="664.20" x2="172.10" y2="668.00" stroke="#111" stroke-width="1.2" stroke-linecap="butt"/>
<text x="172.10" y="679.18" font-size="8" text-anchor="middle" fill="#000" style="color:#000">60</text>
<line x1="217.40" y1="664.20" x2="217.40" y2="668.00" stroke="#111" stroke-width="1.2" stroke-linecap="butt"/>
<text x="217.40" y="679.18" font-size="8" text-anchor="middle" fill="#000" style="color:#000">80</text>
<text x="126.50" y="689.18" font-size="8" text-anchor="middle" fill="#000" style="color:#000">Days</text>
<text x="12.20" y="603.40" font-size="7.4" text-anchor="middle" fill="#000" style="color:#000" transform="rotate(-90 12.2 603.4)">Percent Survival</text>
<polygon points="36.20,665.00 33.70,670.20 38.70,670.20" fill="#000"/>
<polygon points="50.92,665.00 48.42,670.20 53.42,670.20" fill="#000"/>
<line x1="185.40" y1="568.00" x2="195.00" y2="568.00" stroke="#333" stroke-width="1.1" stroke-linecap="butt"/>
<text x="199.80" y="570.88" font-size="8" text-anchor="start" fill="#000" style="color:#000">Vechicle</text>
<line x1="185.40" y1="581.40" x2="195.00" y2="581.40" stroke="#555" stroke-width="0.8" stroke-dasharray="1.6,1" stroke-linecap="butt"/>
<circle cx="190.20" cy="581.40" r="0.9" fill="#333" stroke="none" stroke-width="1"/>
<text x="199.80" y="584.28" font-size="8" text-anchor="start" fill="#000" style="color:#000">Isotype Control</text>
<line x1="185.40" y1="594.60" x2="195.00" y2="594.60" stroke="#a0a0a0" stroke-width="1.1" stroke-linecap="butt"/>
<text x="199.80" y="597.48" font-size="8" text-anchor="start" fill="#000" style="color:#000">Anti-PD1</text>
<line x1="185.40" y1="608.20" x2="195.00" y2="608.20" stroke="#3a2ee0" stroke-width="1.1" stroke-linecap="butt"/>
<text x="199.80" y="611.08" font-size="8" text-anchor="start" fill="#000" style="color:#000">mCLN-617 50 pmol</text>
<line x1="185.40" y1="621.30" x2="195.00" y2="621.30" stroke="#55a84a" stroke-width="1.1" stroke-linecap="butt"/>
<text x="199.80" y="624.18" font-size="8" text-anchor="start" fill="#000" style="color:#000">mCLN-617 100 pmol</text>
<line x1="185.40" y1="634.50" x2="195.00" y2="634.50" stroke="#f0a035" stroke-width="1.1" stroke-linecap="butt"/>
<text x="199.80" y="637.38" font-size="8" text-anchor="start" fill="#000" style="color:#000">mCLN-617 200 pmol</text>
<line x1="185.40" y1="648.00" x2="195.00" y2="648.00" stroke="#ea6a70" stroke-width="1.3" stroke-linecap="butt"/>
<text x="199.80" y="650.88" font-size="8" text-anchor="start" fill="#000" style="color:#000">mCLN-617 400 pmol</text>
<text transform="translate(275.20 8.20) scale(0.93 1)" font-size="11" font-weight="bold" fill="#000" style="color:#000;stroke-width:0.3px">E</text>
<text x="403.70" y="9.40" font-size="9.15" text-anchor="middle" fill="#000" style="color:#000">MC38 - Survival</text>
<polyline points="321.60,22.70 451.23,22.70 451.23,22.70" fill="none" stroke="#f41a3c" stroke-width="1.2" stroke-linecap="butt" stroke-linejoin="miter"/>
<polyline points="321.60,22.70 398.10,22.70 398.10,33.96 421.48,33.96 421.48,45.22 436.35,45.22 436.35,56.48 451.23,56.48 451.23,56.48" fill="none" stroke="#b8906a" stroke-width="1.1" stroke-linecap="butt" stroke-linejoin="miter"/>
<line x1="361.98" y1="22.70" x2="398.10" y2="22.70" stroke="#b26a5e" stroke-width="1.2" stroke-linecap="butt"/>
<line x1="321.60" y1="22.70" x2="361.98" y2="22.70" stroke="#3e2248" stroke-width="1.3" stroke-linecap="butt"/>
<line x1="361.98" y1="22.70" x2="361.98" y2="135.30" stroke="#2a2a2a" stroke-width="1.3" stroke-linecap="butt"/>
<line x1="321.60" y1="22.10" x2="321.60" y2="135.90" stroke="#111" stroke-width="1.2" stroke-linecap="butt"/>
<line x1="321.60" y1="135.30" x2="492.20" y2="135.30" stroke="#111" stroke-width="1.2" stroke-linecap="butt"/>
<line x1="317.60" y1="135.30" x2="321.60" y2="135.30" stroke="#111" stroke-width="1.2" stroke-linecap="butt"/>
<text x="314.40" y="138.18" font-size="8" text-anchor="end" fill="#000" style="color:#000">0</text>
<line x1="317.60" y1="79.00" x2="321.60" y2="79.00" stroke="#111" stroke-width="1.2" stroke-linecap="butt"/>
<text x="314.40" y="81.88" font-size="8" text-anchor="end" fill="#000" style="color:#000">50</text>
<line x1="317.60" y1="22.70" x2="321.60" y2="22.70" stroke="#111" stroke-width="1.2" stroke-linecap="butt"/>
<text x="314.40" y="25.58" font-size="8" text-anchor="end" fill="#000" style="color:#000">100</text>
<line x1="321.60" y1="135.30" x2="321.60" y2="138.90" stroke="#111" stroke-width="1.2" stroke-linecap="butt"/>
<text x="321.60" y="150.18" font-size="8" text-anchor="middle" fill="#000" style="color:#000">0</text>
<line x1="364.10" y1="135.30" x2="364.10" y2="138.90" stroke="#111" stroke-width="1.2" stroke-linecap="butt"/>
<text x="364.10" y="150.18" font-size="8" text-anchor="middle" fill="#000" style="color:#000">20</text>
<line x1="406.60" y1="135.30" x2="406.60" y2="138.90" stroke="#111" stroke-width="1.2" stroke-linecap="butt"/>
<text x="406.60" y="150.18" font-size="8" text-anchor="middle" fill="#000" style="color:#000">40</text>
<line x1="449.10" y1="135.30" x2="449.10" y2="138.90" stroke="#111" stroke-width="1.2" stroke-linecap="butt"/>
<text x="449.10" y="150.18" font-size="8" text-anchor="middle" fill="#000" style="color:#000">60</text>
<line x1="491.60" y1="135.30" x2="491.60" y2="138.90" stroke="#111" stroke-width="1.2" stroke-linecap="butt"/>
<text x="491.60" y="150.18" font-size="8" text-anchor="middle" fill="#000" style="color:#000">80</text>
<text x="406.90" y="163.68" font-size="8" text-anchor="middle" fill="#000" style="color:#000">Days</text>
<text x="299.20" y="79.00" font-size="8" text-anchor="middle" fill="#000" style="color:#000" transform="rotate(-90 299.2 79.0)">Percent Survival</text>
<line x1="384.40" y1="75.90" x2="393.80" y2="75.90" stroke="#5a5a5a" stroke-width="1.4" stroke-linecap="butt"/>
<text x="398.00" y="78.78" font-size="8" text-anchor="start" fill="#000" style="color:#000">Vechicle</text>
<line x1="384.40" y1="89.60" x2="393.80" y2="89.60" stroke="#b8906a" stroke-width="1.2" stroke-linecap="butt"/>
<text x="398.00" y="92.48" font-size="8" text-anchor="start" fill="#000" style="color:#000">mCLN-617 400 pmol, Day 0</text>
<line x1="384.40" y1="103.20" x2="393.80" y2="103.20" stroke="#f41a3c" stroke-width="1.2" stroke-linecap="butt"/>
<text x="398.00" y="106.08" font-size="8" text-anchor="start" fill="#000" style="color:#000">mCLN-617 400 pmol, Day 0, 6</text>
<line x1="384.40" y1="117.00" x2="393.80" y2="117.00" stroke="#9a30a8" stroke-width="1.6" stroke-linecap="butt"/>
<text x="398.00" y="119.88" font-size="8" text-anchor="start" fill="#000" style="color:#000">mCLN-617 400 pmol, Day 0, 6, 12</text>
<text transform="translate(275.20 182.50) scale(0.93 1)" font-size="11" font-weight="bold" fill="#000" style="color:#000;stroke-width:0.3px">F</text>
<text x="407.50" y="185.30" font-size="9.15" text-anchor="middle" fill="#000" style="color:#000">MC38 - Body Weight Change</text>
<line x1="321.80" y1="199.48" x2="321.80" y2="316.08" stroke="#111" stroke-width="1.2" stroke-linecap="butt"/>
<line x1="321.80" y1="292.40" x2="494.80" y2="292.40" stroke="#111" stroke-width="1.2" stroke-linecap="butt"/>
<line x1="317.60" y1="200.08" x2="321.80" y2="200.08" stroke="#111" stroke-width="1.2" stroke-linecap="butt"/>
<text x="314.30" y="202.96" font-size="8" text-anchor="end" fill="#000" style="color:#000">40</text>
<line x1="317.60" y1="223.16" x2="321.80" y2="223.16" stroke="#111" stroke-width="1.2" stroke-linecap="butt"/>
<text x="314.30" y="226.04" font-size="8" text-anchor="end" fill="#000" style="color:#000">30</text>
<line x1="317.60" y1="246.24" x2="321.80" y2="246.24" stroke="#111" stroke-width="1.2" stroke-linecap="butt"/>
<text x="314.30" y="249.12" font-size="8" text-anchor="end" fill="#000" style="color:#000">20</text>
<line x1="317.60" y1="269.32" x2="321.80" y2="269.32" stroke="#111" stroke-width="1.2" stroke-linecap="butt"/>
<text x="314.30" y="272.20" font-size="8" text-anchor="end" fill="#000" style="color:#000">10</text>
<line x1="317.60" y1="292.40" x2="321.80" y2="292.40" stroke="#111" stroke-width="1.2" stroke-linecap="butt"/>
<text x="314.30" y="295.28" font-size="8" text-anchor="end" fill="#000" style="color:#000">0</text>
<line x1="317.60" y1="315.48" x2="321.80" y2="315.48" stroke="#111" stroke-width="1.2" stroke-linecap="butt"/>
<text x="314.30" y="318.36" font-size="8" text-anchor="end" fill="#000" style="color:#000">−10</text>
<line x1="364.90" y1="292.40" x2="364.90" y2="296.40" stroke="#111" stroke-width="1.2" stroke-linecap="butt"/>
<text x="364.90" y="308.38" font-size="8" text-anchor="middle" fill="#000" style="color:#000">20</text>
<line x1="408.00" y1="292.40" x2="408.00" y2="296.40" stroke="#111" stroke-width="1.2" stroke-linecap="butt"/>
<text x="408.00" y="308.38" font-size="8" text-anchor="middle" fill="#000" style="color:#000">40</text>
<line x1="451.10" y1="292.40" x2="451.10" y2="296.40" stroke="#111" stroke-width="1.2" stroke-linecap="butt"/>
<text x="451.10" y="308.38" font-size="8" text-anchor="middle" fill="#000" style="color:#000">60</text>
<line x1="494.20" y1="292.40" x2="494.20" y2="296.40" stroke="#111" stroke-width="1.2" stroke-linecap="butt"/>
<text x="494.20" y="308.38" font-size="8" text-anchor="middle" fill="#000" style="color:#000">80</text>
<text x="408.30" y="321.48" font-size="8" text-anchor="middle" fill="#000" style="color:#000">Days</text>
<text x="297.40" y="255.40" font-size="7.6" text-anchor="middle" fill="#000" style="color:#000" transform="rotate(-90 297.4 255.4)">Body Weight Change (%)</text>
<line x1="384.30" y1="278.09" x2="384.30" y2="274.86" stroke="#ff1a1a" stroke-width="0.9" stroke-linecap="butt"/>
<line x1="382.00" y1="274.86" x2="386.60" y2="274.86" stroke="#ff1a1a" stroke-width="0.9" stroke-linecap="butt"/>
<line x1="392.92" y1="275.09" x2="392.92" y2="271.63" stroke="#ff1a1a" stroke-width="0.9" stroke-linecap="butt"/>
<line x1="390.62" y1="271.63" x2="395.22" y2="271.63" stroke="#ff1a1a" stroke-width="0.9" stroke-linecap="butt"/>
<line x1="399.38" y1="269.55" x2="399.38" y2="265.86" stroke="#ff1a1a" stroke-width="0.9" stroke-linecap="butt"/>
<line x1="397.08" y1="265.86" x2="401.68" y2="265.86" stroke="#ff1a1a" stroke-width="0.9" stroke-linecap="butt"/>
<line x1="408.00" y1="270.70" x2="408.00" y2="267.24" stroke="#ff1a1a" stroke-width="0.9" stroke-linecap="butt"/>
<line x1="405.70" y1="267.24" x2="410.30" y2="267.24" stroke="#ff1a1a" stroke-width="0.9" stroke-linecap="butt"/>
<line x1="414.47" y1="268.86" x2="414.47" y2="265.40" stroke="#ff1a1a" stroke-width="0.9" stroke-linecap="butt"/>
<line x1="412.17" y1="265.40" x2="416.77" y2="265.40" stroke="#ff1a1a" stroke-width="0.9" stroke-linecap="butt"/>
<line x1="429.55" y1="266.78" x2="429.55" y2="263.32" stroke="#ff1a1a" stroke-width="0.9" stroke-linecap="butt"/>
<line x1="427.25" y1="263.32" x2="431.85" y2="263.32" stroke="#ff1a1a" stroke-width="0.9" stroke-linecap="butt"/>
<line x1="438.17" y1="267.70" x2="438.17" y2="264.70" stroke="#ff1a1a" stroke-width="0.9" stroke-linecap="butt"/>
<line x1="435.87" y1="264.70" x2="440.47" y2="264.70" stroke="#ff1a1a" stroke-width="0.9" stroke-linecap="butt"/>
<polyline points="321.80,292.40 328.26,304.40 332.57,292.40 339.04,285.25 347.66,282.01 354.12,286.86 362.75,286.63 369.21,286.63 377.83,280.40 384.30,278.09 392.92,275.09 399.38,269.55 408.00,270.70 414.47,268.86 423.09,270.70 429.55,266.78 438.17,267.70 444.63,269.55" fill="none" stroke="#ff1a1a" stroke-width="0.8" stroke-linecap="butt" stroke-linejoin="round"/>
<circle cx="321.80" cy="292.40" r="2.3" fill="#ff1a1a" stroke="none" stroke-width="1"/>
<circle cx="328.26" cy="304.40" r="2.3" fill="#ff1a1a" stroke="none" stroke-width="1"/>
<circle cx="332.57" cy="292.40" r="2.3" fill="#ff1a1a" stroke="none" stroke-width="1"/>
<circle cx="339.04" cy="285.25" r="2.3" fill="#ff1a1a" stroke="none" stroke-width="1"/>
<circle cx="347.66" cy="282.01" r="2.3" fill="#ff1a1a" stroke="none" stroke-width="1"/>
<circle cx="354.12" cy="286.86" r="2.3" fill="#ff1a1a" stroke="none" stroke-width="1"/>
<circle cx="362.75" cy="286.63" r="2.3" fill="#ff1a1a" stroke="none" stroke-width="1"/>
<circle cx="369.21" cy="286.63" r="2.3" fill="#ff1a1a" stroke="none" stroke-width="1"/>
<circle cx="377.83" cy="280.40" r="2.3" fill="#ff1a1a" stroke="none" stroke-width="1"/>
<circle cx="384.30" cy="278.09" r="2.3" fill="#ff1a1a" stroke="none" stroke-width="1"/>
<circle cx="392.92" cy="275.09" r="2.3" fill="#ff1a1a" stroke="none" stroke-width="1"/>
<circle cx="399.38" cy="269.55" r="2.3" fill="#ff1a1a" stroke="none" stroke-width="1"/>
<circle cx="408.00" cy="270.70" r="2.3" fill="#ff1a1a" stroke="none" stroke-width="1"/>
<circle cx="414.47" cy="268.86" r="2.3" fill="#ff1a1a" stroke="none" stroke-width="1"/>
<circle cx="423.09" cy="270.70" r="2.3" fill="#ff1a1a" stroke="none" stroke-width="1"/>
<circle cx="429.55" cy="266.78" r="2.3" fill="#ff1a1a" stroke="none" stroke-width="1"/>
<circle cx="438.17" cy="267.70" r="2.3" fill="#ff1a1a" stroke="none" stroke-width="1"/>
<circle cx="444.63" cy="269.55" r="2.3" fill="#ff1a1a" stroke="none" stroke-width="1"/>
<line x1="362.75" y1="254.55" x2="362.75" y2="249.47" stroke="#1a2eff" stroke-width="0.9" stroke-linecap="butt"/>
<line x1="360.44" y1="249.47" x2="365.05" y2="249.47" stroke="#1a2eff" stroke-width="0.9" stroke-linecap="butt"/>
<line x1="369.21" y1="244.86" x2="369.21" y2="237.01" stroke="#1a2eff" stroke-width="0.9" stroke-linecap="butt"/>
<line x1="366.91" y1="237.01" x2="371.51" y2="237.01" stroke="#1a2eff" stroke-width="0.9" stroke-linecap="butt"/>
<polyline points="321.80,292.40 328.26,287.55 332.57,287.55 339.04,277.63 347.66,275.55 354.12,268.86 362.75,254.55 369.21,244.86" fill="none" stroke="#1a2eff" stroke-width="0.8" stroke-linecap="butt" stroke-linejoin="round"/>
<circle cx="321.80" cy="292.40" r="2.3" fill="#1a2eff" stroke="none" stroke-width="1"/>
<circle cx="328.26" cy="287.55" r="2.3" fill="#1a2eff" stroke="none" stroke-width="1"/>
<circle cx="332.57" cy="287.55" r="2.3" fill="#1a2eff" stroke="none" stroke-width="1"/>
<circle cx="339.04" cy="277.63" r="2.3" fill="#1a2eff" stroke="none" stroke-width="1"/>
<circle cx="347.66" cy="275.55" r="2.3" fill="#1a2eff" stroke="none" stroke-width="1"/>
<circle cx="354.12" cy="268.86" r="2.3" fill="#1a2eff" stroke="none" stroke-width="1"/>
<circle cx="362.75" cy="254.55" r="2.3" fill="#1a2eff" stroke="none" stroke-width="1"/>
<circle cx="369.21" cy="244.86" r="2.3" fill="#1a2eff" stroke="none" stroke-width="1"/>
<line x1="354.12" y1="251.32" x2="354.12" y2="247.16" stroke="#000" stroke-width="0.9" stroke-linecap="butt"/>
<line x1="351.82" y1="247.16" x2="356.43" y2="247.16" stroke="#000" stroke-width="0.9" stroke-linecap="butt"/>
<line x1="362.75" y1="225.70" x2="362.75" y2="220.39" stroke="#000" stroke-width="0.9" stroke-linecap="butt"/>
<line x1="360.44" y1="220.39" x2="365.05" y2="220.39" stroke="#000" stroke-width="0.9" stroke-linecap="butt"/>
<polyline points="321.80,292.40 328.26,287.55 332.57,287.55 339.04,279.48 347.66,266.09 354.12,251.32 362.75,225.70" fill="none" stroke="#000" stroke-width="0.8" stroke-linecap="butt" stroke-linejoin="round"/>
<circle cx="321.80" cy="292.40" r="2.3" fill="#000" stroke="none" stroke-width="1"/>
<circle cx="328.26" cy="287.55" r="2.3" fill="#000" stroke="none" stroke-width="1"/>
<circle cx="332.57" cy="287.55" r="2.3" fill="#000" stroke="none" stroke-width="1"/>
<circle cx="339.04" cy="279.48" r="2.3" fill="#000" stroke="none" stroke-width="1"/>
<circle cx="347.66" cy="266.09" r="2.3" fill="#000" stroke="none" stroke-width="1"/>
<circle cx="354.12" cy="251.32" r="2.3" fill="#000" stroke="none" stroke-width="1"/>
<circle cx="362.75" cy="225.70" r="2.3" fill="#000" stroke="none" stroke-width="1"/>
<polygon points="321.80,291.6 319.10,298.4 324.50,298.4" fill="#000"/>
<polygon points="334.30,291.6 331.60,298.4 337.00,298.4" fill="#000"/>
<circle cx="321.80" cy="292.40" r="2.3" fill="#000" stroke="none" stroke-width="1"/>
<line x1="429.50" y1="208.30" x2="442.50" y2="208.30" stroke="#000" stroke-width="0.8" stroke-linecap="butt"/>
<circle cx="435.80" cy="208.30" r="2.3" fill="#000" stroke="none" stroke-width="1"/>
<text x="447.50" y="211.18" font-size="8" text-anchor="start" fill="#000" style="color:#000">PBS</text>
<line x1="429.50" y1="224.50" x2="442.50" y2="224.50" stroke="#1a2eff" stroke-width="0.8" stroke-linecap="butt"/>
<circle cx="435.80" cy="224.50" r="2.3" fill="#1a2eff" stroke="none" stroke-width="1"/>
<text x="447.50" y="227.38" font-size="8" text-anchor="start" fill="#000" style="color:#000">Anti_PD1</text>
<line x1="429.50" y1="240.50" x2="442.50" y2="240.50" stroke="#ff1a1a" stroke-width="0.8" stroke-linecap="butt"/>
<circle cx="435.80" cy="240.50" r="2.3" fill="#ff1a1a" stroke="none" stroke-width="1"/>
<text x="447.50" y="243.38" font-size="8" text-anchor="start" fill="#000" style="color:#000">mCLN-617</text>
<text transform="translate(275.20 349.30) scale(0.93 1)" font-size="11" font-weight="bold" fill="#000" style="color:#000;stroke-width:0.3px">G</text>
<text x="413.30" y="346.59" font-size="9.15" text-anchor="middle" fill="#000" style="color:#000">MC38 Rechallenge</text>
<line x1="328.60" y1="359.70" x2="328.60" y2="475.10" stroke="#111" stroke-width="1.2" stroke-linecap="butt"/>
<line x1="328.60" y1="474.50" x2="499.20" y2="474.50" stroke="#111" stroke-width="1.2" stroke-linecap="butt"/>
<line x1="324.40" y1="474.50" x2="328.60" y2="474.50" stroke="#111" stroke-width="1.2" stroke-linecap="butt"/>
<text x="320.00" y="477.38" font-size="8" text-anchor="end" fill="#000" style="color:#000">0</text>
<line x1="324.40" y1="445.95" x2="328.60" y2="445.95" stroke="#111" stroke-width="1.2" stroke-linecap="butt"/>
<text x="320.00" y="448.83" font-size="8" text-anchor="end" fill="#000" style="color:#000">1,000</text>
<line x1="324.40" y1="417.40" x2="328.60" y2="417.40" stroke="#111" stroke-width="1.2" stroke-linecap="butt"/>
<text x="320.00" y="420.28" font-size="8" text-anchor="end" fill="#000" style="color:#000">2,000</text>
<line x1="324.40" y1="388.85" x2="328.60" y2="388.85" stroke="#111" stroke-width="1.2" stroke-linecap="butt"/>
<text x="320.00" y="391.73" font-size="8" text-anchor="end" fill="#000" style="color:#000">3,000</text>
<line x1="324.40" y1="360.30" x2="328.60" y2="360.30" stroke="#111" stroke-width="1.2" stroke-linecap="butt"/>
<text x="320.00" y="363.18" font-size="8" text-anchor="end" fill="#000" style="color:#000">4,000</text>
<line x1="328.60" y1="474.50" x2="328.60" y2="478.50" stroke="#111" stroke-width="1.2" stroke-linecap="butt"/>
<text x="328.60" y="489.48" font-size="8" text-anchor="middle" fill="#000" style="color:#000">0</text>
<line x1="371.10" y1="474.50" x2="371.10" y2="478.50" stroke="#111" stroke-width="1.2" stroke-linecap="butt"/>
<text x="371.10" y="489.48" font-size="8" text-anchor="middle" fill="#000" style="color:#000">10</text>
<line x1="413.60" y1="474.50" x2="413.60" y2="478.50" stroke="#111" stroke-width="1.2" stroke-linecap="butt"/>
<text x="413.60" y="489.48" font-size="8" text-anchor="middle" fill="#000" style="color:#000">20</text>
<line x1="456.10" y1="474.50" x2="456.10" y2="478.50" stroke="#111" stroke-width="1.2" stroke-linecap="butt"/>
<text x="456.10" y="489.48" font-size="8" text-anchor="middle" fill="#000" style="color:#000">30</text>
<line x1="498.60" y1="474.50" x2="498.60" y2="478.50" stroke="#111" stroke-width="1.2" stroke-linecap="butt"/>
<text x="498.60" y="489.48" font-size="8" text-anchor="middle" fill="#000" style="color:#000">40</text>
<text x="413.20" y="502.88" font-size="8" text-anchor="middle" fill="#000" style="color:#000">Days</text>
<text transform="translate(295.4 412.6) rotate(-90)" font-size="8" text-anchor="middle">Tumor Voume (mm<tspan dy="-2.6" font-size="5.5">3</tspan><tspan dy="2.6">)</tspan></text>
<line x1="426.35" y1="470.22" x2="426.35" y2="467.08" stroke="#ff1a1a" stroke-width="0.8" stroke-linecap="butt"/>
<line x1="424.55" y1="467.08" x2="428.15" y2="467.08" stroke="#ff1a1a" stroke-width="0.8" stroke-linecap="butt"/>
<line x1="443.35" y1="463.65" x2="443.35" y2="457.37" stroke="#ff1a1a" stroke-width="0.8" stroke-linecap="butt"/>
<line x1="441.55" y1="457.37" x2="445.15" y2="457.37" stroke="#ff1a1a" stroke-width="0.8" stroke-linecap="butt"/>
<line x1="456.10" y1="466.65" x2="456.10" y2="462.51" stroke="#ff1a1a" stroke-width="0.8" stroke-linecap="butt"/>
<line x1="454.30" y1="462.51" x2="457.90" y2="462.51" stroke="#ff1a1a" stroke-width="0.8" stroke-linecap="butt"/>
<line x1="473.10" y1="460.80" x2="473.10" y2="452.80" stroke="#ff1a1a" stroke-width="0.8" stroke-linecap="butt"/>
<line x1="471.30" y1="452.80" x2="474.90" y2="452.80" stroke="#ff1a1a" stroke-width="0.8" stroke-linecap="butt"/>
<polyline points="328.60,474.50 337.10,474.50 354.10,474.36 366.85,474.07 383.85,473.64 396.60,473.36 413.60,472.50 426.35,470.22 443.35,463.65 456.10,466.65 473.10,460.80" fill="none" stroke="#ff1a1a" stroke-width="0.8" stroke-linecap="butt" stroke-linejoin="round"/>
<circle cx="328.60" cy="474.50" r="2.3" fill="#ff1a1a" stroke="none" stroke-width="1"/>
<circle cx="337.10" cy="474.50" r="2.3" fill="#ff1a1a" stroke="none" stroke-width="1"/>
<circle cx="354.10" cy="474.36" r="2.3" fill="#ff1a1a" stroke="none" stroke-width="1"/>
<circle cx="366.85" cy="474.07" r="2.3" fill="#ff1a1a" stroke="none" stroke-width="1"/>
<circle cx="383.85" cy="473.64" r="2.3" fill="#ff1a1a" stroke="none" stroke-width="1"/>
<circle cx="396.60" cy="473.36" r="2.3" fill="#ff1a1a" stroke="none" stroke-width="1"/>
<circle cx="413.60" cy="472.50" r="2.3" fill="#ff1a1a" stroke="none" stroke-width="1"/>
<circle cx="426.35" cy="470.22" r="2.3" fill="#ff1a1a" stroke="none" stroke-width="1"/>
<circle cx="443.35" cy="463.65" r="2.3" fill="#ff1a1a" stroke="none" stroke-width="1"/>
<circle cx="456.10" cy="466.65" r="2.3" fill="#ff1a1a" stroke="none" stroke-width="1"/>
<circle cx="473.10" cy="460.80" r="2.3" fill="#ff1a1a" stroke="none" stroke-width="1"/>
<line x1="413.60" y1="436.24" x2="413.60" y2="433.10" stroke="#000" stroke-width="0.8" stroke-linecap="butt"/>
<line x1="411.80" y1="433.10" x2="415.40" y2="433.10" stroke="#000" stroke-width="0.8" stroke-linecap="butt"/>
<line x1="426.35" y1="411.69" x2="426.35" y2="406.55" stroke="#000" stroke-width="0.8" stroke-linecap="butt"/>
<line x1="424.55" y1="406.55" x2="428.15" y2="406.55" stroke="#000" stroke-width="0.8" stroke-linecap="butt"/>
<line x1="443.35" y1="378.57" x2="443.35" y2="372.58" stroke="#000" stroke-width="0.8" stroke-linecap="butt"/>
<line x1="441.55" y1="372.58" x2="445.15" y2="372.58" stroke="#000" stroke-width="0.8" stroke-linecap="butt"/>
<line x1="456.10" y1="372.29" x2="456.10" y2="366.58" stroke="#000" stroke-width="0.8" stroke-linecap="butt"/>
<line x1="454.30" y1="366.58" x2="457.90" y2="366.58" stroke="#000" stroke-width="0.8" stroke-linecap="butt"/>
<polyline points="328.60,474.50 337.10,474.50 354.10,473.64 366.85,470.22 383.85,462.51 396.60,454.51 413.60,436.24 426.35,411.69 443.35,378.57 456.10,372.29" fill="none" stroke="#000" stroke-width="0.8" stroke-linecap="butt" stroke-linejoin="round"/>
<circle cx="328.60" cy="474.50" r="2.3" fill="#000" stroke="none" stroke-width="1"/>
<circle cx="337.10" cy="474.50" r="2.3" fill="#000" stroke="none" stroke-width="1"/>
<circle cx="354.10" cy="473.64" r="2.3" fill="#000" stroke="none" stroke-width="1"/>
<circle cx="366.85" cy="470.22" r="2.3" fill="#000" stroke="none" stroke-width="1"/>
<circle cx="383.85" cy="462.51" r="2.3" fill="#000" stroke="none" stroke-width="1"/>
<circle cx="396.60" cy="454.51" r="2.3" fill="#000" stroke="none" stroke-width="1"/>
<circle cx="413.60" cy="436.24" r="2.3" fill="#000" stroke="none" stroke-width="1"/>
<circle cx="426.35" cy="411.69" r="2.3" fill="#000" stroke="none" stroke-width="1"/>
<circle cx="443.35" cy="378.57" r="2.3" fill="#000" stroke="none" stroke-width="1"/>
<circle cx="456.10" cy="372.29" r="2.3" fill="#000" stroke="none" stroke-width="1"/>
<line x1="335.00" y1="370.50" x2="347.20" y2="370.50" stroke="#000" stroke-width="0.8" stroke-linecap="butt"/>
<circle cx="341.20" cy="370.50" r="2.3" fill="#000" stroke="none" stroke-width="1"/>
<text x="354.50" y="373.38" font-size="8" text-anchor="start" fill="#000" style="color:#000">Naive Mice</text>
<line x1="335.00" y1="384.50" x2="347.20" y2="384.50" stroke="#ff1a1a" stroke-width="0.8" stroke-linecap="butt"/>
<circle cx="341.20" cy="384.50" r="2.3" fill="#ff1a1a" stroke="none" stroke-width="1"/>
<text x="354.50" y="387.38" font-size="8" text-anchor="start" fill="#000" style="color:#000">Rechallenged Mice</text>
<text x="454.00" y="449.88" font-size="8" text-anchor="middle" fill="#ff1a1a" style="color:#ff1a1a;stroke-width:0.05px">5/10 Reject Tumor</text>
<text transform="translate(275.00 526.60) scale(0.93 1)" font-size="11" font-weight="bold" fill="#000" style="color:#000;stroke-width:0.3px">H</text>
<text x="411.50" y="530.70" font-size="9.15" text-anchor="middle" fill="#000" style="color:#000">Pan02 Challenge</text>
<line x1="325.00" y1="546.00" x2="325.00" y2="662.80" stroke="#111" stroke-width="1.2" stroke-linecap="butt"/>
<line x1="325.00" y1="662.20" x2="499.20" y2="662.20" stroke="#111" stroke-width="1.2" stroke-linecap="butt"/>
<line x1="320.60" y1="662.20" x2="325.00" y2="662.20" stroke="#111" stroke-width="1.2" stroke-linecap="butt"/>
<text x="317.60" y="665.08" font-size="8" text-anchor="end" fill="#000" style="color:#000">0</text>
<line x1="320.60" y1="633.30" x2="325.00" y2="633.30" stroke="#111" stroke-width="1.2" stroke-linecap="butt"/>
<text x="317.60" y="636.18" font-size="8" text-anchor="end" fill="#000" style="color:#000">100</text>
<line x1="320.60" y1="604.40" x2="325.00" y2="604.40" stroke="#111" stroke-width="1.2" stroke-linecap="butt"/>
<text x="317.60" y="607.28" font-size="8" text-anchor="end" fill="#000" style="color:#000">200</text>
<line x1="320.60" y1="575.50" x2="325.00" y2="575.50" stroke="#111" stroke-width="1.2" stroke-linecap="butt"/>
<text x="317.60" y="578.38" font-size="8" text-anchor="end" fill="#000" style="color:#000">300</text>
<line x1="320.60" y1="546.60" x2="325.00" y2="546.60" stroke="#111" stroke-width="1.2" stroke-linecap="butt"/>
<text x="317.60" y="549.48" font-size="8" text-anchor="end" fill="#000" style="color:#000">400</text>
<line x1="325.00" y1="662.20" x2="325.00" y2="666.20" stroke="#111" stroke-width="1.2" stroke-linecap="butt"/>
<text x="325.00" y="676.68" font-size="8" text-anchor="middle" fill="#000" style="color:#000">0</text>
<line x1="368.40" y1="662.20" x2="368.40" y2="666.20" stroke="#111" stroke-width="1.2" stroke-linecap="butt"/>
<text x="368.40" y="676.68" font-size="8" text-anchor="middle" fill="#000" style="color:#000">10</text>
<line x1="411.80" y1="662.20" x2="411.80" y2="666.20" stroke="#111" stroke-width="1.2" stroke-linecap="butt"/>
<text x="411.80" y="676.68" font-size="8" text-anchor="middle" fill="#000" style="color:#000">20</text>
<line x1="455.20" y1="662.20" x2="455.20" y2="666.20" stroke="#111" stroke-width="1.2" stroke-linecap="butt"/>
<text x="455.20" y="676.68" font-size="8" text-anchor="middle" fill="#000" style="color:#000">30</text>
<line x1="498.60" y1="662.20" x2="498.60" y2="666.20" stroke="#111" stroke-width="1.2" stroke-linecap="butt"/>
<text x="498.60" y="676.68" font-size="8" text-anchor="middle" fill="#000" style="color:#000">40</text>
<text x="411.00" y="689.08" font-size="8" text-anchor="middle" fill="#000" style="color:#000">Days</text>
<text transform="translate(295.6 604.0) rotate(-90)" font-size="8" text-anchor="middle">Tumor Voume (mm<tspan dy="-2.6" font-size="5.5">3</tspan><tspan dy="2.6">)</tspan></text>
<line x1="381.42" y1="628.39" x2="381.42" y2="626.36" stroke="#ff1a1a" stroke-width="0.8" stroke-linecap="butt"/>
<line x1="379.62" y1="626.36" x2="383.22" y2="626.36" stroke="#ff1a1a" stroke-width="0.8" stroke-linecap="butt"/>
<line x1="411.80" y1="615.96" x2="411.80" y2="613.65" stroke="#ff1a1a" stroke-width="0.8" stroke-linecap="butt"/>
<line x1="410.00" y1="613.65" x2="413.60" y2="613.65" stroke="#ff1a1a" stroke-width="0.8" stroke-linecap="butt"/>
<line x1="424.82" y1="614.23" x2="424.82" y2="612.20" stroke="#ff1a1a" stroke-width="0.8" stroke-linecap="butt"/>
<line x1="423.02" y1="612.20" x2="426.62" y2="612.20" stroke="#ff1a1a" stroke-width="0.8" stroke-linecap="butt"/>
<line x1="442.18" y1="609.89" x2="442.18" y2="607.58" stroke="#ff1a1a" stroke-width="0.8" stroke-linecap="butt"/>
<line x1="440.38" y1="607.58" x2="443.98" y2="607.58" stroke="#ff1a1a" stroke-width="0.8" stroke-linecap="butt"/>
<line x1="455.20" y1="597.75" x2="455.20" y2="594.00" stroke="#ff1a1a" stroke-width="0.8" stroke-linecap="butt"/>
<line x1="453.40" y1="594.00" x2="457.00" y2="594.00" stroke="#ff1a1a" stroke-width="0.8" stroke-linecap="butt"/>
<line x1="472.56" y1="570.88" x2="472.56" y2="563.94" stroke="#ff1a1a" stroke-width="0.8" stroke-linecap="butt"/>
<line x1="470.76" y1="563.94" x2="474.36" y2="563.94" stroke="#ff1a1a" stroke-width="0.8" stroke-linecap="butt"/>
<polyline points="364.06,647.46 381.42,628.39 394.44,619.14 411.80,615.96 424.82,614.23 442.18,609.89 455.20,597.75 472.56,570.88" fill="none" stroke="#ff1a1a" stroke-width="0.8" stroke-linecap="butt" stroke-linejoin="round"/>
<circle cx="364.06" cy="647.46" r="2.3" fill="#ff1a1a" stroke="none" stroke-width="1"/>
<circle cx="381.42" cy="628.39" r="2.3" fill="#ff1a1a" stroke="none" stroke-width="1"/>
<circle cx="394.44" cy="619.14" r="2.3" fill="#ff1a1a" stroke="none" stroke-width="1"/>
<circle cx="411.80" cy="615.96" r="2.3" fill="#ff1a1a" stroke="none" stroke-width="1"/>
<circle cx="424.82" cy="614.23" r="2.3" fill="#ff1a1a" stroke="none" stroke-width="1"/>
<circle cx="442.18" cy="609.89" r="2.3" fill="#ff1a1a" stroke="none" stroke-width="1"/>
<circle cx="455.20" cy="597.75" r="2.3" fill="#ff1a1a" stroke="none" stroke-width="1"/>
<circle cx="472.56" cy="570.88" r="2.3" fill="#ff1a1a" stroke="none" stroke-width="1"/>
<line x1="394.44" y1="617.41" x2="394.44" y2="613.07" stroke="#000" stroke-width="0.8" stroke-linecap="butt"/>
<line x1="392.64" y1="613.07" x2="396.24" y2="613.07" stroke="#000" stroke-width="0.8" stroke-linecap="butt"/>
<line x1="411.80" y1="603.82" x2="411.80" y2="595.73" stroke="#000" stroke-width="0.8" stroke-linecap="butt"/>
<line x1="410.00" y1="595.73" x2="413.60" y2="595.73" stroke="#000" stroke-width="0.8" stroke-linecap="butt"/>
<line x1="424.82" y1="599.78" x2="424.82" y2="591.68" stroke="#000" stroke-width="0.8" stroke-linecap="butt"/>
<line x1="423.02" y1="591.68" x2="426.62" y2="591.68" stroke="#000" stroke-width="0.8" stroke-linecap="butt"/>
<line x1="442.18" y1="582.44" x2="442.18" y2="570.88" stroke="#000" stroke-width="0.8" stroke-linecap="butt"/>
<line x1="440.38" y1="570.88" x2="443.98" y2="570.88" stroke="#000" stroke-width="0.8" stroke-linecap="butt"/>
<polyline points="355.38,662.20 364.06,650.64 381.42,629.54 394.44,617.41 411.80,603.82 424.82,599.78 442.18,582.44" fill="none" stroke="#000" stroke-width="0.8" stroke-linecap="butt" stroke-linejoin="round"/>
<circle cx="355.38" cy="662.20" r="2.3" fill="#000" stroke="none" stroke-width="1"/>
<circle cx="364.06" cy="650.64" r="2.3" fill="#000" stroke="none" stroke-width="1"/>
<circle cx="381.42" cy="629.54" r="2.3" fill="#000" stroke="none" stroke-width="1"/>
<circle cx="394.44" cy="617.41" r="2.3" fill="#000" stroke="none" stroke-width="1"/>
<circle cx="411.80" cy="603.82" r="2.3" fill="#000" stroke="none" stroke-width="1"/>
<circle cx="424.82" cy="599.78" r="2.3" fill="#000" stroke="none" stroke-width="1"/>
<circle cx="442.18" cy="582.44" r="2.3" fill="#000" stroke="none" stroke-width="1"/>
<line x1="332.90" y1="555.50" x2="346.20" y2="555.50" stroke="#000" stroke-width="0.8" stroke-linecap="butt"/>
<circle cx="339.10" cy="555.50" r="2.3" fill="#000" stroke="none" stroke-width="1"/>
<text x="353.20" y="558.38" font-size="8" text-anchor="start" fill="#000" style="color:#000">Naive Mice</text>
<line x1="332.90" y1="570.90" x2="346.20" y2="570.90" stroke="#ff1a1a" stroke-width="0.8" stroke-linecap="butt"/>
<circle cx="339.10" cy="570.90" r="2.3" fill="#ff1a1a" stroke="none" stroke-width="1"/>
<text x="353.20" y="573.78" font-size="8" text-anchor="start" fill="#000" style="color:#000">mCLN-617-Treated</text>
<text x="353.20" y="584.58" font-size="8" text-anchor="start" fill="#000" style="color:#000">MC38 Survivors</text>
</svg>
</body></html>
